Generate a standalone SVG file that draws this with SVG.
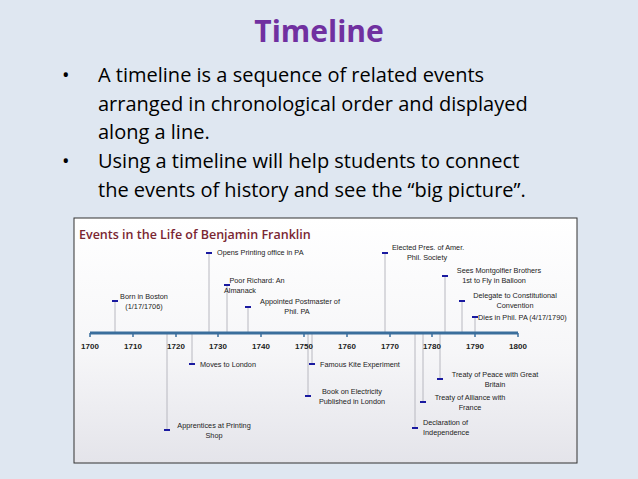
<svg xmlns="http://www.w3.org/2000/svg" width="638" height="479" viewBox="0 0 638 479">
<defs>
<linearGradient id="bg" x1="0" y1="0" x2="0" y2="1"><stop offset="0" stop-color="#ffffff"/><stop offset="0.55" stop-color="#f6f6f8"/><stop offset="1" stop-color="#e4e4ea"/></linearGradient>
<style>
.t{font-family:"Liberation Sans",Arial,sans-serif;font-size:7.3px;fill:#222}
.c{text-anchor:middle}
.y{font-family:"Liberation Sans",Arial,sans-serif;font-size:8px;font-weight:bold;fill:#222;text-anchor:middle}
.b{font-family:"Open Sans","Liberation Sans",sans-serif;font-size:20px;fill:#000}
.st{stroke:#b8b8c0;stroke-width:1}
.mk{stroke:#1a1aa0;stroke-width:2}
.tk{stroke:#3a6e9c;stroke-width:1.5}
</style>
</defs>
<rect width="638" height="479" fill="#dfe7f1"/>
<text x="319" y="42" text-anchor="middle" font-family="'Open Sans','Liberation Sans',sans-serif" font-size="30" font-weight="bold" fill="#7030a0">Timeline</text>
<g id="bullets">
<text class="b" x="62" y="82">•</text>
<text class="b" x="98" y="82">A timeline is a sequence of related events</text>
<text class="b" x="98" y="111">arranged in chronological order and displayed</text>
<text class="b" x="98" y="139">along a line.</text>
<text class="b" x="62" y="168">•</text>
<text class="b" x="98" y="168"> Using a timeline will help students to connect</text>
<text class="b" x="98" y="197">the events of history and see the “big picture”.</text>
</g>
<g id="chart">
<rect x="74" y="218" width="503" height="245" fill="url(#bg)" stroke="#333" stroke-width="1"/>
<text x="79" y="239" font-family="'Open Sans','Liberation Sans',Arial,sans-serif" font-size="12.5" font-weight="600" fill="#7a2632">Events in the Life of Benjamin Franklin</text>
</g>
<g id="connectors">
<line class="st" x1="115" y1="301" x2="115" y2="333"/>
<line class="st" x1="209" y1="253" x2="209" y2="333"/>
<line class="st" x1="227" y1="285" x2="227" y2="333"/>
<line class="st" x1="248" y1="307" x2="248" y2="333"/>
<line class="st" x1="385" y1="253" x2="385" y2="333"/>
<line class="st" x1="445" y1="276" x2="445" y2="333"/>
<line class="st" x1="462" y1="301" x2="462" y2="333"/>
<line class="st" x1="475" y1="317" x2="475" y2="333"/>
<line class="st" x1="167" y1="333" x2="167" y2="430"/>
<line class="st" x1="192" y1="333" x2="192" y2="364"/>
<line class="st" x1="312" y1="333" x2="312" y2="364"/>
<line class="st" x1="308" y1="333" x2="308" y2="396"/>
<line class="st" x1="415" y1="333" x2="415" y2="428"/>
<line class="st" x1="423" y1="333" x2="423" y2="402"/>
<line class="st" x1="440" y1="333" x2="440" y2="379"/>
</g>
<g id="axis">
<line x1="90" y1="333" x2="518" y2="333" stroke="#3a6e9c" stroke-width="3"/>
<g class="tk">
<line x1="90" y1="333" x2="90" y2="337"/><line x1="133" y1="333" x2="133" y2="337"/><line x1="176" y1="333" x2="176" y2="337"/><line x1="218" y1="333" x2="218" y2="337"/><line x1="261" y1="333" x2="261" y2="337"/><line x1="304" y1="333" x2="304" y2="337"/><line x1="347" y1="333" x2="347" y2="337"/><line x1="390" y1="333" x2="390" y2="337"/><line x1="432" y1="333" x2="432" y2="337"/><line x1="475" y1="333" x2="475" y2="337"/><line x1="518" y1="333" x2="518" y2="337"/>
</g>
<text class="y" x="90" y="349">1700</text><text class="y" x="133" y="349">1710</text><text class="y" x="176" y="349">1720</text><text class="y" x="218" y="349">1730</text><text class="y" x="261" y="349">1740</text><text class="y" x="304" y="349">1750</text><text class="y" x="347" y="349">1760</text><text class="y" x="390" y="349">1770</text><text class="y" x="432" y="349">1780</text><text class="y" x="475" y="349">1790</text><text class="y" x="518" y="349">1800</text>
</g>
<g id="e1706"><line class="mk" x1="112" y1="301" x2="118" y2="301"/><text class="t c" x="144" y="299">Born in Boston</text><text class="t c" x="144" y="309">(1/17/1706)</text></g>
<g id="e1728"><line class="mk" x1="206" y1="253" x2="212" y2="253"/><text class="t" x="217" y="255">Opens Printing office in PA</text></g>
<g id="e1732"><line class="mk" x1="224" y1="285" x2="230" y2="285"/><text class="t c" x="257" y="283">Poor Richard: An</text><text class="t c" x="240" y="293">Almanack</text></g>
<g id="e1737"><line class="mk" x1="245" y1="307" x2="251" y2="307"/><text class="t c" x="300" y="304">Appointed Postmaster of</text><text class="t c" x="297" y="314">Phil. PA</text></g>
<g id="e1769"><line class="mk" x1="382" y1="253" x2="388" y2="253"/><text class="t" x="392" y="250">Elected Pres. of Amer.</text><text class="t c" x="427" y="260">Phil. Society</text></g>
<g id="e1783a"><line class="mk" x1="442" y1="276" x2="448" y2="276"/><text class="t c" x="499" y="273">Sees Montgolfier Brothers</text><text class="t c" x="494" y="283">1st to Fly in Balloon</text></g>
<g id="e1787"><line class="mk" x1="459" y1="301" x2="465" y2="301"/><text class="t c" x="515" y="298">Delegate to Constitutional</text><text class="t c" x="515" y="308">Convention</text></g>
<g id="e1790"><line class="mk" x1="472" y1="317" x2="478" y2="317"/><text class="t" x="478" y="319.5">Dies in Phil. PA (4/17/1790)</text></g>
<g id="e1718"><line class="mk" x1="164" y1="430" x2="170" y2="430"/><text class="t c" x="214" y="428">Apprentices at Printing</text><text class="t c" x="214" y="438">Shop</text></g>
<g id="e1724"><line class="mk" x1="189" y1="364" x2="195" y2="364"/><text class="t" x="200" y="366.5">Moves to London</text></g>
<g id="e1752"><line class="mk" x1="309" y1="364" x2="315" y2="364"/><text class="t" x="320" y="366.5">Famous Kite Experiment</text></g>
<g id="e1751"><line class="mk" x1="305" y1="396" x2="311" y2="396"/><text class="t c" x="352" y="394">Book on Electricity</text><text class="t c" x="352" y="404">Published in London</text></g>
<g id="e1776"><line class="mk" x1="412" y1="428" x2="418" y2="428"/><text class="t" x="423" y="425">Declaration of</text><text class="t" x="423" y="435">Independence</text></g>
<g id="e1778"><line class="mk" x1="420" y1="402" x2="426" y2="402"/><text class="t c" x="470" y="400">Treaty of Alliance with</text><text class="t c" x="470" y="410">France</text></g>
<g id="e1783b"><line class="mk" x1="437" y1="379" x2="443" y2="379"/><text class="t c" x="495" y="377">Treaty of Peace with Great</text><text class="t c" x="495" y="387">Britain</text></g>
</svg>
